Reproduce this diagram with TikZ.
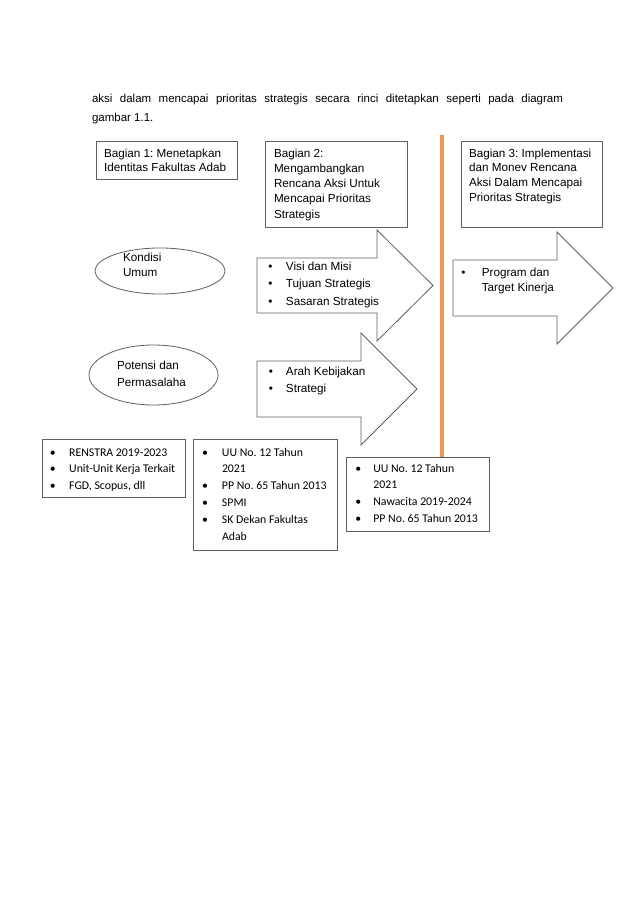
\documentclass[tikz,border=0pt]{standalone}
\usepackage{fontspec}
\setmainfont{Liberation Sans}
\newfontfamily\calfont{Carlito}
\usetikzlibrary{shapes.geometric}
\definecolor{edge}{RGB}{95,95,95}
\definecolor{orangeline}{RGB}{238,150,90}
\frenchspacing
\newcommand\ml[3]{\fontsize{#1}{#2}\selectfont\begin{tabular}[t]{@{}l@{}}#3\end{tabular}}
\newcommand\cml[3]{\calfont\fontsize{#1}{#2}\selectfont\begin{tabular}[t]{@{}l@{}}#3\end{tabular}}
\newcommand\bitem[2]{\makebox[0pt]{\textbullet}\hspace{#1}#2}
\newcommand\bcont[2]{\hspace{#1}#2}
\tikzset{
  box/.style={draw=edge, line width=0.8pt, fill=white, inner sep=0pt, rectangle},
  oval/.style={ellipse, draw=edge, line width=0.8pt, fill=white, inner sep=0pt},
  blockarrow/.style={draw=edge, line width=0.8pt, fill=white, line join=miter},
  txt/.style={anchor=base west, inner sep=0pt, outer sep=0pt},
  orangestroke/.style={draw=orangeline, line width=3.5pt},
}
\begin{document}
\begin{tikzpicture}[x=1pt,y=-1pt]
\useasboundingbox[fill=white] (0,0) rectangle (638,902);

% intro text
\node[txt, font=\fontsize{11.5}{20}\selectfont] (intro1) at (92,102.5)
  {\makebox[471pt][s]{aksi dalam mencapai prioritas strategis secara rinci ditetapkan seperti pada diagram}};
\node[txt, font=\fontsize{11.5}{20}\selectfont] (intro2) at (92,121.5) {gambar 1.1.};

% orange divider
\coordinate (ltop) at (442,135);

% heading boxes
\node[box, minimum width=141pt, minimum height=38pt] (b1) at (166.5,160) {};
\node[box, minimum width=142pt, minimum height=86pt] (b2) at (336,184) {};
\node[box, minimum width=141pt, minimum height=86pt] (b3) at (531.5,184) {};

\node[txt] (b1t) at (104,157) {\ml{11.7}{14}{Bagian 1: Menetapkan\\Identitas Fakultas Adab}};
\node[txt] (b2t) at (274,157) {\ml{11.7}{15.3}{Bagian 2:\\Mengambangkan\\Rencana Aksi Untuk\\Mencapai Prioritas\\Strategis}};
\node[txt] (b3t) at (469,157) {\ml{11.7}{14.9}{Bagian 3: Implementasi\\dan Monev Rencana\\Aksi Dalam Mencapai\\Prioritas Strategis}};

% ellipses
\node[oval, minimum width=130pt, minimum height=46pt] (e1) at (160,271) {};
\node[oval, minimum width=129pt, minimum height=60pt] (e2) at (153.5,375) {};
\node[txt] (e1t) at (123,261) {\ml{11.7}{15}{Kondisi\\Umum}};
\node[txt] (e2t) at (117,369) {\ml{11.7}{17}{Potensi dan\\Permasalaha}};

% block arrows
\draw[blockarrow] (257,258) -- (377,258) -- (377,230) -- (433,285.5) -- (377,341) -- (377,313) -- (257,313) -- cycle;
\draw[blockarrow] (257,361) -- (361,361) -- (361,333) -- (417,389) -- (361,445) -- (361,417) -- (257,417) -- cycle;
\draw[blockarrow] (453,260) -- (557,260) -- (557,232) -- (613,288) -- (557,344) -- (557,316) -- (453,316) -- cycle;

\node[txt] (a1t) at (270.5,270) {\ml{11.7}{17.5}{\bitem{15.5pt}{Visi dan Misi}\\\bitem{15.5pt}{Tujuan Strategis}\\\bitem{15.5pt}{Sasaran Strategis}}};
\node[txt] (a2t) at (271,375.5) {\ml{11.7}{16.8}{\bitem{15pt}{Arah Kebijakan}\\\bitem{15pt}{Strategi}}};
\node[txt] (a3t) at (463.3,276) {\ml{11.7}{15}{\bitem{18.5pt}{Program dan}\\\bcont{18.5pt}{Target Kinerja}}};

% bottom boxes
\node[box, minimum width=143pt, minimum height=58pt] (cA) at (113.5,468) {};
\node[box, minimum width=144pt, minimum height=111pt] (cB) at (265,494.5) {};
\node[box, minimum width=143pt, minimum height=74pt] (cC) at (417.5,494) {};

\draw[orangestroke] (ltop) -- (cC.north -| ltop);

\node[txt] (cAt) at (52.7,456) {\cml{11.8}{16.5}{\bitem{16.5pt}{RENSTRA 2019-2023}\\\bitem{16.5pt}{Unit-Unit Kerja Terkait}\\\bitem{16.5pt}{FGD, Scopus, dll}}};
\node[txt] (cBt) at (205,456) {\cml{11.8}{16.8}{\bitem{17pt}{UU No. 12 Tahun}\\\bcont{17pt}{2021}\\\bitem{17pt}{PP No. 65 Tahun 2013}\\\bitem{17pt}{SPMI}\\\bitem{17pt}{SK Dekan Fakultas}\\\bcont{17pt}{Adab}}};
\node[txt] (cCt) at (358.3,472) {\cml{11.8}{16.7}{\bitem{15pt}{UU No. 12 Tahun}\\\bcont{15pt}{2021}\\\bitem{15pt}{Nawacita 2019-2024}\\\bitem{15pt}{PP No. 65 Tahun 2013}}};
\end{tikzpicture}
\end{document}
